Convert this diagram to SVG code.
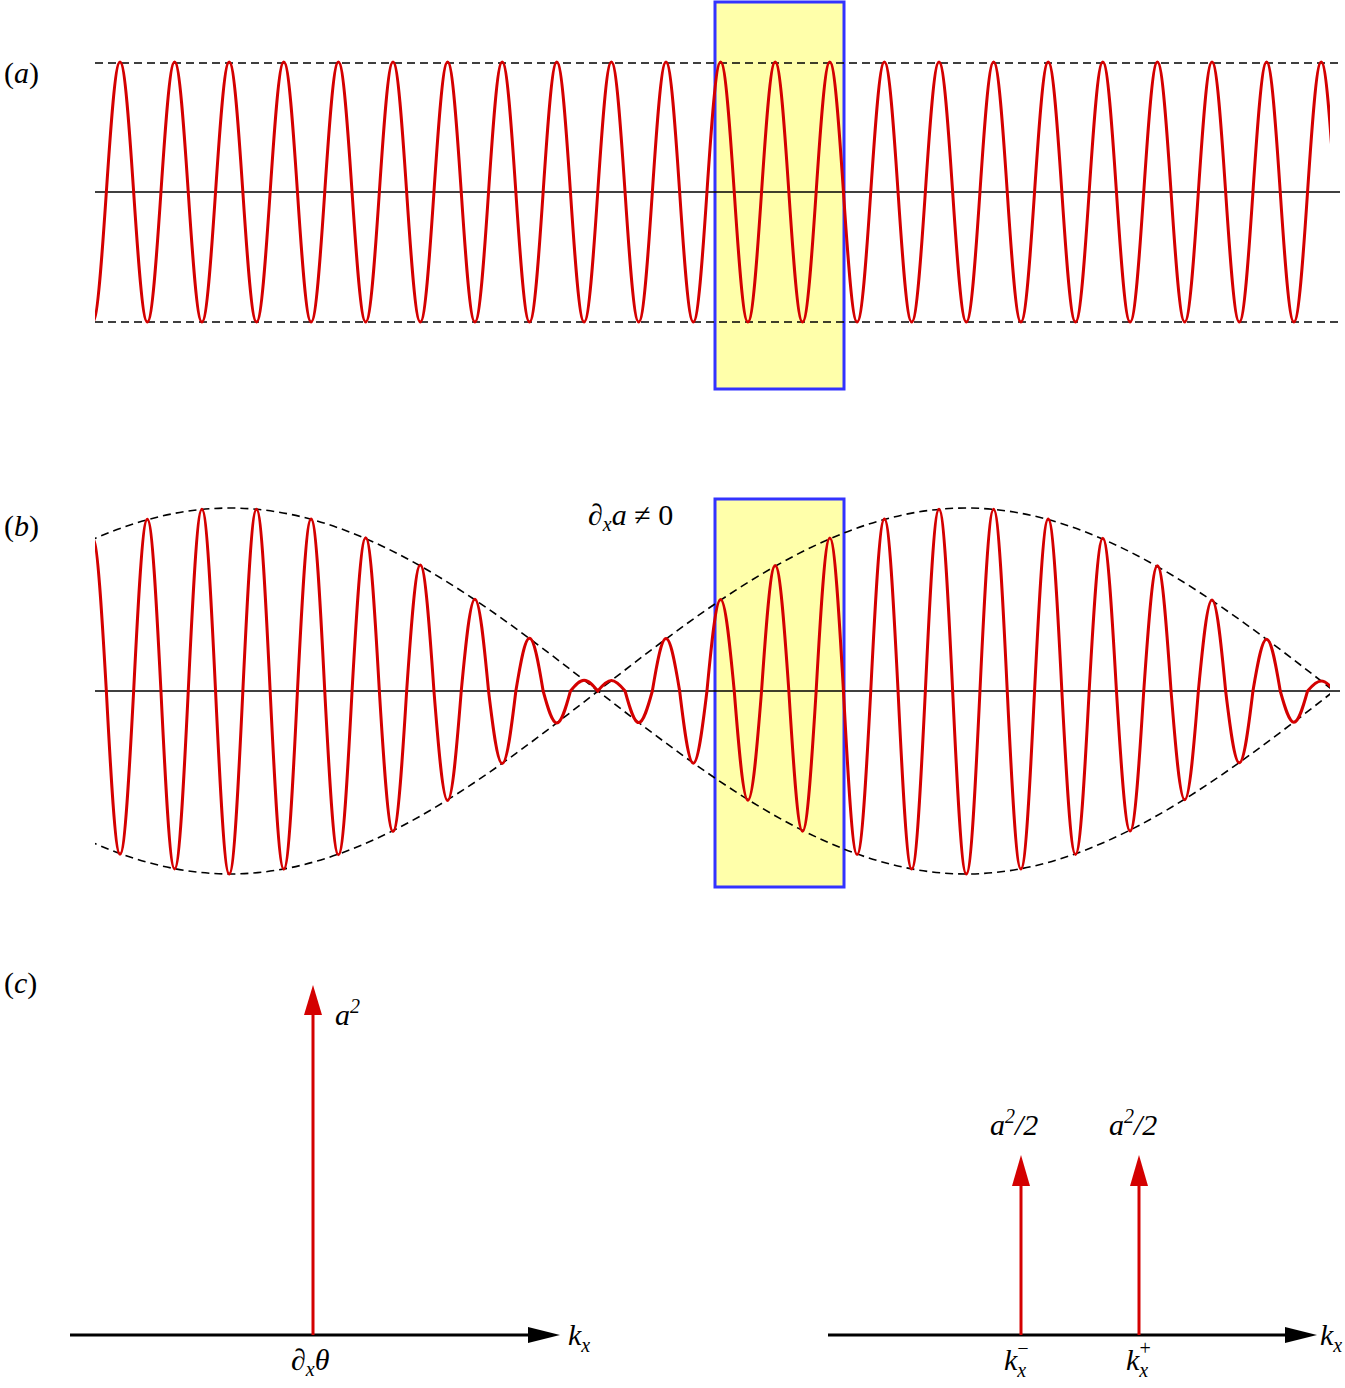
<svg xmlns="http://www.w3.org/2000/svg" width="1345" height="1388" viewBox="0 0 1345 1388">
<style>
.lbl{font-family:"Liberation Serif",serif;font-size:30px;fill:#000}
.it{font-style:italic}
.wave{fill:none;stroke:#d40000;stroke-width:3}
.dash{fill:none;stroke:#000;stroke-width:1.6;stroke-dasharray:8,5}
.ax{stroke:#000;stroke-width:1.6}
.box{fill:#ffffaa;stroke:#3333ff;stroke-width:3}
.red{stroke:#d40000;stroke-width:3}
.blk{stroke:#000;stroke-width:3}
</style>
<defs>
<clipPath id="ca"><rect x="95" y="0" width="1235" height="400"/></clipPath>
<clipPath id="cb"><rect x="95" y="450" width="1235" height="450"/></clipPath>
<marker id="rh" markerWidth="20" markerHeight="30" refX="10" refY="2" orient="auto-start-reverse" markerUnits="userSpaceOnUse" viewBox="0 0 20 30"><polygon points="10,0 18,30 2,30" fill="#d40000" transform="rotate(0)"/></marker>
</defs>
<g id="panel-a">
<rect class="box" x="715" y="2" width="129" height="387"/>
<line class="dash" x1="95" y1="63" x2="1340" y2="63"/>
<line class="dash" x1="95" y1="322" x2="1340" y2="322"/>
<line class="ax" x1="95" y1="192" x2="1340" y2="192"/>
<path class="wave" clip-path="url(#ca)" d="M92.7,322
c4.79,0 9.2,-63.5 13.65,-130 c4.448,-66.5 8.86,-130 13.65,-130 c4.79,0 9.2,63.5 13.65,130 c4.448,66.5 8.86,130 13.65,130
c4.79,0 9.2,-63.5 13.65,-130 c4.448,-66.5 8.86,-130 13.65,-130 c4.79,0 9.2,63.5 13.65,130 c4.448,66.5 8.86,130 13.65,130
c4.79,0 9.2,-63.5 13.65,-130 c4.448,-66.5 8.86,-130 13.65,-130 c4.79,0 9.2,63.5 13.65,130 c4.448,66.5 8.86,130 13.65,130
c4.79,0 9.2,-63.5 13.65,-130 c4.448,-66.5 8.86,-130 13.65,-130 c4.79,0 9.2,63.5 13.65,130 c4.448,66.5 8.86,130 13.65,130
c4.79,0 9.2,-63.5 13.65,-130 c4.448,-66.5 8.86,-130 13.65,-130 c4.79,0 9.2,63.5 13.65,130 c4.448,66.5 8.86,130 13.65,130
c4.79,0 9.2,-63.5 13.65,-130 c4.448,-66.5 8.86,-130 13.65,-130 c4.79,0 9.2,63.5 13.65,130 c4.448,66.5 8.86,130 13.65,130
c4.79,0 9.2,-63.5 13.65,-130 c4.448,-66.5 8.86,-130 13.65,-130 c4.79,0 9.2,63.5 13.65,130 c4.448,66.5 8.86,130 13.65,130
c4.79,0 9.2,-63.5 13.65,-130 c4.448,-66.5 8.86,-130 13.65,-130 c4.79,0 9.2,63.5 13.65,130 c4.448,66.5 8.86,130 13.65,130
c4.79,0 9.2,-63.5 13.65,-130 c4.448,-66.5 8.86,-130 13.65,-130 c4.79,0 9.2,63.5 13.65,130 c4.448,66.5 8.86,130 13.65,130
c4.79,0 9.2,-63.5 13.65,-130 c4.448,-66.5 8.86,-130 13.65,-130 c4.79,0 9.2,63.5 13.65,130 c4.448,66.5 8.86,130 13.65,130
c4.79,0 9.2,-63.5 13.65,-130 c4.448,-66.5 8.86,-130 13.65,-130 c4.79,0 9.2,63.5 13.65,130 c4.448,66.5 8.86,130 13.65,130
c4.79,0 9.2,-63.5 13.65,-130 c4.448,-66.5 8.86,-130 13.65,-130 c4.79,0 9.2,63.5 13.65,130 c4.448,66.5 8.86,130 13.65,130
c4.79,0 9.2,-63.5 13.65,-130 c4.448,-66.5 8.86,-130 13.65,-130 c4.79,0 9.2,63.5 13.65,130 c4.448,66.5 8.86,130 13.65,130
c4.79,0 9.2,-63.5 13.65,-130 c4.448,-66.5 8.86,-130 13.65,-130 c4.79,0 9.2,63.5 13.65,130 c4.448,66.5 8.86,130 13.65,130
c4.79,0 9.2,-63.5 13.65,-130 c4.448,-66.5 8.86,-130 13.65,-130 c4.79,0 9.2,63.5 13.65,130 c4.448,66.5 8.86,130 13.65,130
c4.79,0 9.2,-63.5 13.65,-130 c4.448,-66.5 8.86,-130 13.65,-130 c4.79,0 9.2,63.5 13.65,130 c4.448,66.5 8.86,130 13.65,130
c4.79,0 9.2,-63.5 13.65,-130 c4.448,-66.5 8.86,-130 13.65,-130 c4.79,0 9.2,63.5 13.65,130 c4.448,66.5 8.86,130 13.65,130
c4.79,0 9.2,-63.5 13.65,-130 c4.448,-66.5 8.86,-130 13.65,-130 c4.79,0 9.2,63.5 13.65,130 c4.448,66.5 8.86,130 13.65,130
c4.79,0 9.2,-63.5 13.65,-130 c4.448,-66.5 8.86,-130 13.65,-130 c4.79,0 9.2,63.5 13.65,130 c4.448,66.5 8.86,130 13.65,130
c4.79,0 9.2,-63.5 13.65,-130 c4.448,-66.5 8.86,-130 13.65,-130 c4.79,0 9.2,63.5 13.65,130 c4.448,66.5 8.86,130 13.65,130
c4.79,0 9.2,-63.5 13.65,-130 c4.448,-66.5 8.86,-130 13.65,-130 c4.79,0 9.2,63.5 13.65,130 c4.448,66.5 8.86,130 13.65,130
c4.79,0 9.2,-63.5 13.65,-130 c4.448,-66.5 8.86,-130 13.65,-130 c4.79,0 9.2,63.5 13.65,130 c4.448,66.5 8.86,130 13.65,130
c4.79,0 9.2,-63.5 13.65,-130 c4.448,-66.5 8.86,-130 13.65,-130 c4.79,0 9.2,63.5 13.65,130 c4.448,66.5 8.86,130 13.65,130"/>
<text class="lbl" x="4" y="83">(<tspan class="it">a</tspan>)</text>
</g>
<g id="panel-b">
<rect class="box" x="715" y="499" width="129" height="388"/>
<line class="ax" x1="95" y1="691" x2="1340" y2="691"/>
<g clip-path="url(#cb)">
<path class="dash" d="M-138,691 c119.9,-93.7 238.9,-183 368,-183 c129.1,0 248.1,89.3 368,183 c119.9,93.7 238.9,183 368,183 c129.1,0 248.1,-89.3 368,-183"/>
<path class="dash" d="M-138,691 c119.9,93.7 238.9,183 368,183 c129.1,0 248.1,-89.3 368,-183 c119.9,-93.7 238.9,-183 368,-183 c129.1,0 248.1,89.3 368,183"/>
<path class="wave" d="M92.7,538.5
c4.79,0 9.2,74.5 13.65,152.5 c4.448,83.5 8.86,163.2 13.65,163.2
c4.79,0 9.2,-79.7 13.65,-163.2 c4.448,-87.9 8.86,-171.7 13.65,-171.7
c4.79,0 9.2,83.8 13.65,171.7 c4.448,91.0 8.86,177.9 13.65,177.9
c4.79,0 9.2,-86.9 13.65,-177.9 c4.448,-93.0 8.86,-181.7 13.65,-181.7
c4.79,0 9.2,88.7 13.65,181.7 c4.448,93.7 8.86,183 13.65,183
c4.79,0 9.2,-89.3 13.65,-183 c4.448,-93.0 8.86,-181.8 13.65,-181.8
c4.79,0 9.2,88.8 13.65,181.8 c4.448,91.2 8.86,178.2 13.65,178.2
c4.79,0 9.2,-87.0 13.65,-178.2 c4.448,-88.1 8.86,-172.1 13.65,-172.1
c4.79,0 9.2,84.0 13.65,172.1 c4.448,83.8 8.86,163.8 13.65,163.8
c4.79,0 9.2,-80.0 13.65,-163.8 c4.448,-78.4 8.86,-153.2 13.65,-153.2
c4.79,0 9.2,74.8 13.65,153.2 c4.448,71.9 8.86,140.5 13.65,140.5
c4.79,0 9.2,-68.6 13.65,-140.5 c4.448,-64.4 8.86,-125.9 13.65,-125.9
c4.79,0 9.2,61.5 13.65,125.9 c4.448,56.0 8.86,109.5 13.65,109.5
c4.79,0 9.2,-53.5 13.65,-109.5 c4.448,-47.0 8.86,-91.8 13.65,-91.8
c4.79,0 9.2,44.8 13.65,91.8 c4.448,37.2 8.86,72.6 13.65,72.6
c4.79,0 9.2,-35.4 13.65,-72.6 c4.448,-27.0 8.86,-52.8 13.65,-52.8
c4.79,0 9.2,25.8 13.65,52.8 c4.448,16.4 8.86,32.0 13.65,32.0
c4.79,0 9.2,-15.6 13.65,-32.0 c4.448,-5.5 8.86,-10.8 13.65,-10.8
c4.79,0 9.2,5.3 13.65,10.8 c4.448,-5.4 8.86,-10.5 13.65,-10.5
c4.79,0 9.2,5.1 13.65,10.5 c4.448,16.2 8.86,31.6 13.65,31.6
c4.79,0 9.2,-15.4 13.65,-31.6 c4.448,-26.8 8.86,-52.4 13.65,-52.4
c4.79,0 9.2,25.6 13.65,52.4 c4.448,37.0 8.86,72.3 13.65,72.3
c4.79,0 9.2,-35.3 13.65,-72.3 c4.448,-46.8 8.86,-91.5 13.65,-91.5
c4.79,0 9.2,44.7 13.65,91.5 c4.448,55.9 8.86,109.2 13.65,109.2
c4.79,0 9.2,-53.3 13.65,-109.2 c4.448,-64.3 8.86,-125.6 13.65,-125.6
c4.79,0 9.2,61.3 13.65,125.6 c4.448,71.8 8.86,140.2 13.65,140.2
c4.79,0 9.2,-68.4 13.65,-140.2 c4.448,-78.3 8.86,-152.9 13.65,-152.9
c4.79,0 9.2,74.6 13.65,152.9 c4.448,83.7 8.86,163.6 13.65,163.6
c4.79,0 9.2,-79.9 13.65,-163.6 c4.448,-88.0 8.86,-172 13.65,-172
c4.79,0 9.2,84.0 13.65,172 c4.448,91.2 8.86,178.1 13.65,178.1
c4.79,0 9.2,-86.9 13.65,-178.1 c4.448,-93.0 8.86,-181.8 13.65,-181.8
c4.79,0 9.2,88.8 13.65,181.8 c4.448,93.7 8.86,183 13.65,183
c4.79,0 9.2,-89.3 13.65,-183 c4.448,-93.0 8.86,-181.7 13.65,-181.7
c4.79,0 9.2,88.7 13.65,181.7 c4.448,91.1 8.86,178 13.65,178
c4.79,0 9.2,-86.9 13.65,-178 c4.448,-88.0 8.86,-171.9 13.65,-171.9
c4.79,0 9.2,83.9 13.65,171.9 c4.448,83.6 8.86,163.4 13.65,163.4
c4.79,0 9.2,-79.8 13.65,-163.4 c4.448,-78.2 8.86,-152.7 13.65,-152.7
c4.79,0 9.2,74.5 13.65,152.7 c4.448,71.7 8.86,140 13.65,140
c4.79,0 9.2,-68.3 13.65,-140 c4.448,-64.1 8.86,-125.3 13.65,-125.3
c4.79,0 9.2,61.2 13.65,125.3 c4.448,55.7 8.86,108.8 13.65,108.8
c4.79,0 9.2,-53.1 13.65,-108.8 c4.448,-46.6 8.86,-91 13.65,-91
c4.79,0 9.2,44.4 13.65,91 c4.448,36.7 8.86,71.8 13.65,71.8
c4.79,0 9.2,-35.1 13.65,-71.8 c4.448,-26.5 8.86,-51.8 13.65,-51.8
c4.79,0 9.2,25.3 13.65,51.8 c4.448,16.0 8.86,31.2 13.65,31.2
c4.79,0 9.2,-15.2 13.65,-31.2 c4.448,-5.1 8.86,-9.9 13.65,-9.9
c4.79,0 9.2,4.8 13.65,9.9"/>
</g>
<text class="lbl" x="4" y="536">(<tspan class="it">b</tspan>)</text>
<text class="lbl" x="588" y="525" font-size="28">∂<tspan class="it" font-size="20" dy="6">x</tspan><tspan class="it" dy="-6">a</tspan> ≠ 0</text>
</g>
<g id="panel-c">
<text class="lbl" x="4" y="993">(<tspan class="it">c</tspan>)</text>
<line class="blk" x1="70" y1="1335" x2="530" y2="1335"/>
<polygon points="560,1335 528,1327 528,1343" fill="#000"/>
<line class="blk" x1="828" y1="1335" x2="1287" y2="1335"/>
<polygon points="1317,1335 1285,1327 1285,1343" fill="#000"/>
<line class="red" x1="313" y1="1335" x2="313" y2="1012"/>
<polygon points="313,985 304,1015 322,1015" fill="#d40000"/>
<line class="red" x1="1021" y1="1335" x2="1021" y2="1182"/>
<polygon points="1021,1155 1012,1186 1030,1186" fill="#d40000"/>
<line class="red" x1="1139" y1="1335" x2="1139" y2="1182"/>
<polygon points="1139,1155 1130,1186 1148,1186" fill="#d40000"/>
<text class="lbl it" x="568" y="1345">k<tspan font-size="20" dy="7">x</tspan></text>
<text class="lbl it" x="1320" y="1345">k<tspan font-size="20" dy="7">x</tspan></text>
<text class="lbl it" x="335" y="1025">a<tspan font-size="20" dy="-12">2</tspan></text>
<text class="lbl" x="291" y="1370">∂<tspan class="it" font-size="20" dy="6">x</tspan><tspan class="it" dy="-6">θ</tspan></text>
<text class="lbl it" x="990" y="1135">a<tspan font-size="20" dy="-12">2</tspan><tspan dy="12">/2</tspan></text>
<text class="lbl it" x="1109" y="1135">a<tspan font-size="20" dy="-12">2</tspan><tspan dy="12">/2</tspan></text>
<text class="lbl it" x="1004" y="1370">k<tspan font-size="20" dy="7">x</tspan><tspan font-size="20" dx="-10" dy="-22">−</tspan></text>
<text class="lbl it" x="1126" y="1370">k<tspan font-size="20" dy="7">x</tspan><tspan font-size="20" dx="-10" dy="-22">+</tspan></text>
</g>
</svg>
